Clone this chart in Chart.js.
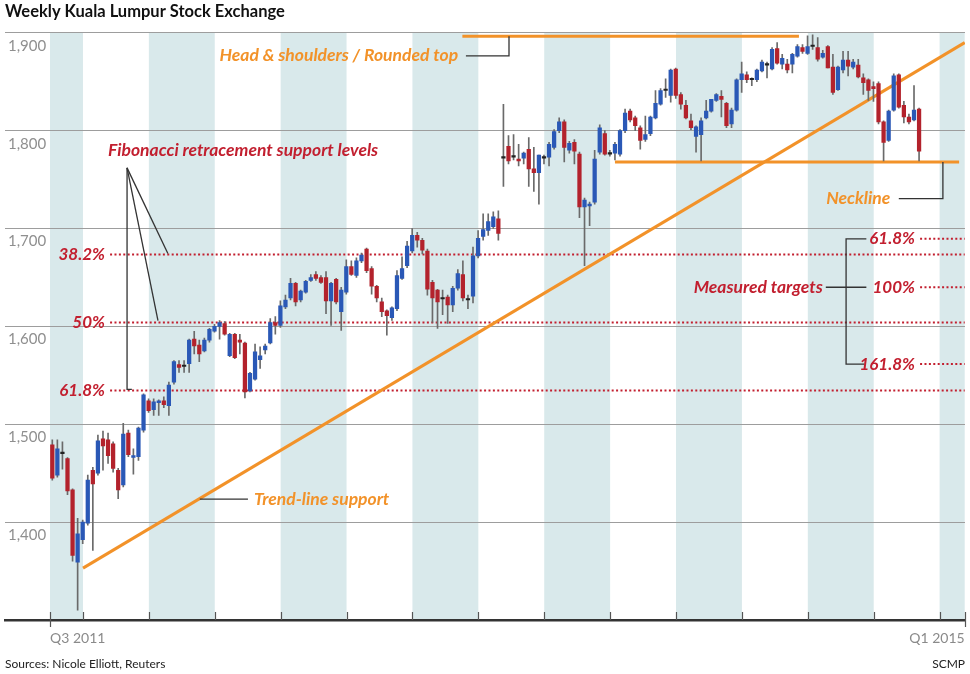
<!DOCTYPE html>
<html>
<head>
<meta charset="utf-8">
<script src="https://cdn.jsdelivr.net/npm/chart.js@4.4.1/dist/chart.umd.min.js"></script>
<style>
  html, body { margin: 0; padding: 0; background: #fff; }
  #wrap { width: 970px; height: 674px; }
</style>
</head>
<body>
<div id="wrap"><canvas id="klse" width="970" height="674"></canvas></div>
<script>
// weekly candles, index 0 = mid-Aug 2011
const weekOpen = [
  1479,1448,1471,1465,1433,1359,1382,1399,1453,1450,1485,1484,
  1480,1453,1438,1491,1466,1467,1494,1524,1515,1522,1524,1519,
  1543,1561,1559,1562,1587,1581,1575,1586,1595,1600,1603,1570,
  1592,1586,1583,1534,1546,1566,1576,1583,1604,1601,1620,1629,
  1644,1627,1635,1647,1653,1650,1650,1626,1648,1615,1635,1661,
  1652,1667,1679,1659,1641,1625,1616,1609,1618,1649,1662,1677,
  1693,1688,1677,1645,1637,1629,1630,1622,1639,1653,1628,1631,
  1672,1692,1698,1702,1710,1773,1784,1774,1771,1772,1781,1761,
  1757,1773,1773,1783,1800,1809,1780,1788,1776,1722,1723,1727,
  1778,1797,1777,1777,1776,1800,1820,1813,1803,1791,1797,1813,
  1827,1842,1836,1863,1837,1826,1810,1794,1796,1813,1820,1831,
  1835,1828,1807,1821,1852,1857,1853,1852,1861,1868,1863,1884,
  1868,1868,1868,1876,1885,1879,1886,1885,1875,1886,1865,1842,
  1862,1872,1865,1867,1854,1852,1845,1848,1809,1790,1821,1857,
  1826,1814,1811,1822
];
const weekHigh = [
  1484,1484,1482,1466,1434,1404,1402,1448,1456,1489,1493,1491,
  1482,1455,1501,1494,1475,1497,1531,1526,1526,1525,1528,1543,
  1565,1565,1565,1587,1595,1586,1588,1598,1602,1606,1605,1593,
  1593,1592,1584,1553,1582,1579,1582,1608,1610,1626,1632,1649,
  1645,1637,1647,1653,1656,1652,1656,1645,1649,1640,1668,1667,
  1670,1675,1680,1661,1642,1629,1617,1620,1657,1671,1687,1700,
  1696,1690,1679,1647,1638,1637,1632,1641,1658,1667,1632,1681,
  1698,1715,1715,1717,1718,1827,1795,1796,1786,1778,1793,1783,
  1775,1775,1788,1801,1813,1811,1789,1791,1778,1731,1727,1780,
  1806,1800,1780,1788,1801,1822,1822,1815,1805,1815,1815,1841,
  1843,1853,1863,1864,1839,1831,1817,1805,1813,1831,1832,1838,
  1841,1829,1823,1853,1870,1860,1854,1863,1872,1870,1885,1890,
  1878,1873,1879,1888,1888,1897,1898,1895,1882,1887,1878,1866,
  1881,1881,1873,1873,1858,1853,1850,1850,1810,1821,1858,1858,
  1830,1817,1846,1823
];
const weekLow = [
  1443,1446,1454,1428,1360,1310,1378,1397,1371,1448,1453,1460,
  1451,1424,1436,1467,1449,1463,1492,1512,1509,1509,1517,1509,
  1541,1553,1553,1553,1572,1564,1574,1584,1594,1587,1591,1569,
  1567,1572,1527,1533,1545,1557,1572,1582,1592,1599,1618,1627,
  1621,1625,1634,1646,1647,1644,1613,1601,1623,1596,1633,1652,
  1650,1665,1655,1633,1625,1610,1591,1606,1616,1648,1660,1675,
  1681,1674,1632,1604,1598,1612,1603,1615,1637,1626,1618,1624,
  1670,1688,1693,1700,1688,1743,1766,1770,1764,1766,1743,1738,
  1725,1766,1764,1781,1798,1768,1777,1766,1711,1662,1703,1725,
  1776,1775,1774,1770,1774,1798,1809,1800,1781,1789,1795,1812,
  1826,1834,1829,1833,1822,1812,1801,1778,1769,1812,1819,1830,
  1814,1803,1803,1820,1839,1849,1846,1850,1860,1854,1862,1868,
  1863,1859,1859,1875,1879,1878,1883,1871,1874,1864,1837,1841,
  1859,1856,1863,1854,1837,1831,1830,1807,1769,1789,1820,1823,
  1808,1807,1810,1769
];
const weekClose = [
  1445,1475,1470,1432,1366,1388,1400,1443,1439,1483,1478,1468,
  1455,1433,1490,1469,1468,1496,1530,1514,1523,1524,1520,1540,
  1564,1558,1560,1586,1580,1572,1586,1597,1600,1604,1592,1592,
  1568,1584,1533,1552,1574,1570,1580,1604,1601,1621,1627,1644,
  1625,1636,1646,1650,1649,1645,1626,1644,1625,1637,1661,1653,
  1667,1673,1657,1641,1629,1615,1611,1619,1652,1659,1682,1693,
  1688,1678,1638,1629,1625,1628,1622,1639,1654,1629,1627,1672,
  1690,1699,1707,1712,1695,1772,1769,1773,1769,1777,1761,1757,
  1775,1772,1786,1799,1809,1783,1787,1779,1722,1729,1725,1771,
  1803,1776,1776,1786,1800,1818,1811,1805,1790,1796,1814,1828,
  1841,1841,1862,1836,1827,1813,1803,1804,1810,1820,1832,1837,
  1832,1805,1821,1852,1858,1852,1852,1862,1870,1867,1883,1869,
  1874,1862,1878,1886,1881,1886,1887,1873,1879,1864,1839,1865,
  1872,1866,1870,1855,1849,1841,1843,1809,1788,1820,1856,1824,
  1814,1809,1821,1779
];

// x axis in weeks; quarter boundaries and the two labelled ends
const axisStart = -0.45;
const axisEnd = 180;
const quarterStarts = [6.05, 19.05, 32.05, 45.05, 58.05, 71.05, 84.05, 97.05, 110.05, 123.05, 136.05, 149.05, 162.05, 175.05];
const xTickLabels = ['Q3 2011', 'Q1 2015'];

// pattern levels
const trendLine = [[6.06, 1353], [180, 1890]];
const headTop = [[80.9, 1896.5], [147.3, 1896.5]];
const neckline = [[111.0, 1768], [178.9, 1768]];
const fibLevels = [1673.4, 1604, 1534.6];
const fibLabels = ['38.2%', '50%', '61.8%'];
const targetLevels = [1689.5, 1640, 1561.5];
const targetLabels = ['61.8%', '100%', '161.8%'];

const UP = '#2a58b6';
const DOWN = '#b3222c';
const ORANGE = '#f29229';
const RED = '#c21f2f';
const INK = '#333';

const idx = weekOpen.map((_, i) => i);
const bodies = idx.map(i => ({ x: i, y: [weekOpen[i], weekClose[i]] }));
const wicks = idx.map(i => ({ x: i, y: [weekLow[i], weekHigh[i]] }));
const bodyColors = idx.map(i => {
  if (Math.abs(weekClose[i] - weekOpen[i]) <= 1.5) return '#222';
  return weekClose[i] >= weekOpen[i] ? UP : DOWN;
});

const pts = (arr) => arr.map(([x, y]) => ({ x, y }));

function levelLine(y, x0, x1, color) {
  return {
    type: 'line', data: [{ x: x0, y }, { x: x1, y }],
    borderColor: color, borderWidth: 2, borderDash: [2, 2.4],
    pointRadius: 0, order: 3
  };
}

function orangeLine(arr) {
  return {
    type: 'line', data: pts(arr), borderColor: ORANGE, borderWidth: 3,
    pointRadius: 0, order: 2, borderCapStyle: 'butt'
  };
}

// text + leader lines, positioned in data units
const notes = [
  { text: 'Head & shoulders / Rounded top', x: 80.05, y: 1876.5, align: 'right', color: ORANGE },
  { text: 'Neckline', x: 165.3, y: 1730.6, align: 'right', color: ORANGE },
  { text: 'Trend-line support', x: 39.8, y: 1423.5, align: 'left', color: ORANGE },
  { text: 'Fibonacci retracement support levels', x: 11.0, y: 1779.6, align: 'left', color: RED },
  { text: 'Measured targets', x: 152.0, y: 1640, align: 'right', color: RED }
];
const leaders = [
  [[90.1, 1896.5], [90.1, 1876.5], [81.6, 1876.5]],
  [[175.7, 1768], [175.7, 1730.6], [167.0, 1730.6]],
  [[29.1, 1423.5], [38.6, 1423.5]],
  [[14.75, 1762], [14.75, 1535.7], [15.7, 1535.7]],
  [[14.75, 1762], [20.85, 1606]],
  [[14.75, 1762], [22.8, 1674.5]],
  [[160.6, 1689.5], [156.6, 1689.5], [156.6, 1561.5], [160.2, 1561.5]],
  [[152.6, 1640], [160.6, 1640]]
];

const overlay = {
  id: 'overlay',
  beforeDraw(chart) {
    const { ctx, chartArea: a, scales: { x } } = chart;
    const edges = [axisStart, ...quarterStarts, axisEnd];
    ctx.save();
    ctx.fillStyle = '#d9e9eb';
    for (let k = 0; k < edges.length - 1; k += 2) {
      const l = x.getPixelForValue(edges[k]);
      const r = x.getPixelForValue(edges[k + 1]);
      ctx.fillRect(l, a.top, r - l, a.bottom - a.top);
    }
    ctx.restore();
  },
  afterDraw(chart) {
    const { ctx, chartArea: a, scales: { x, y } } = chart;
    const edges = [axisStart, ...quarterStarts, axisEnd];
    ctx.save();

    // tick marks sitting on the axis
    ctx.strokeStyle = '#555';
    ctx.lineWidth = 1.2;
    edges.forEach((v, k) => {
      const px = Math.round(x.getPixelForValue(v)) + 0.5;
      const end = (k === 0 || k === edges.length - 1) ? a.bottom + 7 : a.bottom;
      ctx.beginPath();
      ctx.moveTo(px, a.bottom - 8);
      ctx.lineTo(px, end);
      ctx.stroke();
    });

    // leader lines
    ctx.strokeStyle = INK;
    ctx.lineWidth = 1.3;
    leaders.forEach(line => {
      ctx.beginPath();
      line.forEach(([vx, vy], j) => {
        const px = x.getPixelForValue(vx), py = y.getPixelForValue(vy);
        if (j === 0) ctx.moveTo(px, py); else ctx.lineTo(px, py);
      });
      ctx.stroke();
    });

    // annotation text
    ctx.textBaseline = 'middle';
    ctx.font = 'italic bold 17.5px Lato';
    notes.forEach(n => {
      ctx.fillStyle = n.color;
      ctx.textAlign = n.align;
      ctx.fillText(n.text, x.getPixelForValue(n.x), y.getPixelForValue(n.y));
    });

    ctx.font = 'italic bold 17px Lato';
    ctx.fillStyle = RED;
    ctx.textAlign = 'right';
    fibLevels.forEach((v, k) => ctx.fillText(fibLabels[k], x.getPixelForValue(10.4), y.getPixelForValue(v)));
    targetLevels.forEach((v, k) => ctx.fillText(targetLabels[k], x.getPixelForValue(170.2), y.getPixelForValue(v)));

    // footer
    ctx.font = '12px Lato';
    ctx.fillStyle = '#222';
    ctx.textAlign = 'left';
    ctx.fillText('Sources: Nicole Elliott, Reuters', 5, 664);
    ctx.textAlign = 'right';
    ctx.fillText('SCMP', 965, 664);
    ctx.restore();
  }
};

new Chart(document.getElementById('klse'), {
  type: 'bar',
  data: {
    datasets: [
      {
        label: 'Body', data: bodies, backgroundColor: bodyColors,
        barThickness: 3.6, minBarLength: 1.5, grouped: false, order: 0
      },
      {
        label: 'Range', data: wicks, backgroundColor: '#6a6a6a',
        barThickness: 1, grouped: false, order: 1
      },
      orangeLine(trendLine),
      orangeLine(headTop),
      orangeLine(neckline),
      ...fibLevels.map(v => levelLine(v, 11.4, 180, RED)),
      ...targetLevels.map(v => levelLine(v, 171.2, 180, RED))
    ]
  },
  options: {
    responsive: false,
    animation: false,
    layout: { padding: { left: 5, right: 5, top: 0, bottom: 26 } },
    plugins: {
      legend: { display: false },
      tooltip: { enabled: false },
      title: {
        display: true,
        text: 'Weekly Kuala Lumpur Stock Exchange',
        align: 'start',
        color: '#111',
        font: { family: 'Lato', size: 16.5, weight: 'bold' },
        padding: { top: 2, bottom: 11 }
      }
    },
    scales: {
      x: {
        type: 'linear',
        min: -9.33,
        max: 180.06,
        offset: false,
        grid: { display: false, drawTicks: false },
        border: { display: true, color: '#333', width: 2.5 },
        afterBuildTicks: (axis) => {
          axis.ticks = [axisStart, ...quarterStarts, axisEnd].map(v => ({ value: v }));
        },
        afterFit: (axis) => {
          axis.paddingLeft = 0;
          axis.paddingRight = 0;
          axis.height = 28;
        },
        ticks: {
          autoSkip: false,
          maxRotation: 0,
          align: 'inner',
          padding: 10,
          color: '#8a8a8a',
          font: { family: 'Lato', size: 14 },
          callback: (v, i, ticks) => i === 0 ? xTickLabels[0] : (i === ticks.length - 1 ? xTickLabels[1] : '')
        }
      },
      y: {
        min: 1300,
        max: 1900,
        grid: { color: '#9d9d9d', lineWidth: 1, drawTicks: false },
        border: { display: false },
        afterFit: (axis) => {
          axis.width = 0;
          axis.paddingTop = 0;
          axis.paddingBottom = 0;
        },
        ticks: {
          stepSize: 100,
          mirror: true,
          padding: 3,
          labelOffset: 13,
          color: '#8f8f8f',
          font: { family: 'Lato', size: 15 },
          callback: (v) => v === 1300 ? '' : v.toLocaleString('en-US')
        }
      }
    }
  },
  plugins: [overlay]
});
</script>
</body>
</html>
